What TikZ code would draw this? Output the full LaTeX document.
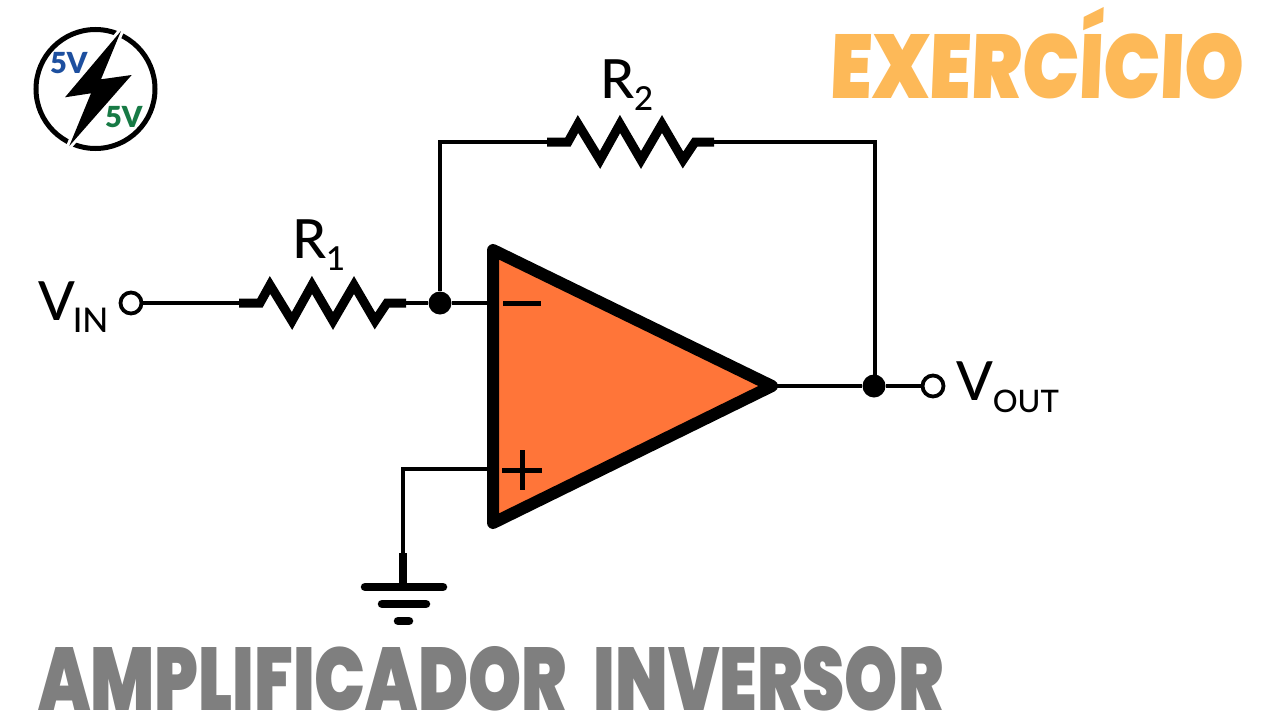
\documentclass[tikz,border=0pt]{standalone}
\usepackage{fontspec}
\setmainfont{Lato Medium}
\newfontfamily\heavyfont{Poppins Black}
\newfontfamily\slantfont[FakeSlant=0.05]{Poppins Black}
\newfontfamily\logofont{Lato Black}
\definecolor{opfill}{HTML}{FF7539}
\definecolor{extitle}{HTML}{FDB958}
\definecolor{amptitle}{HTML}{7F7F7F}
\definecolor{logoblue}{HTML}{1D4F9F}
\definecolor{logogreen}{HTML}{177A45}
\newcommand{\lbl}[3]{\fontsize{54}{54}\selectfont #1\raisebox{-12pt}{\fontsize{#3}{#3}\selectfont #2}}
\tikzset{
  wire/.style={line width=4.6pt,line cap=butt,line join=miter},
  dotnode/.style={circle,fill=black,inner sep=0pt,minimum size=23pt},
  termnode/.style={circle,draw=black,fill=white,line width=3.8pt,inner sep=0pt,minimum size=21pt},
  lab/.style={anchor=base west,inner sep=0pt,outer sep=0pt},
  gbar/.style={line width=8.5pt,line cap=round},
  res/.style={line width=9pt,line join=miter,miter limit=10},
  pics/resistor/.style={code={
    \draw[res] (0,0) -- (21,0) -- (31,-18) -- (53,18) -- (73,-18) -- (94,18) -- (115,-18) -- (136,18) -- (148,0) -- (167,0);
  }}
}
\begin{document}
\begin{tikzpicture}[x=1pt,y=-1pt]
\useasboundingbox (0,0) rectangle (1280,720);
\fill[white] (0,0) rectangle (1280,720);
% coordinates
\coordinate (r1a) at (239,303);
\coordinate (r1b) at (406,303);
\coordinate (r2a) at (547,142);
\coordinate (r2b) at (714,142);
\coordinate (tl) at (493,250);
\coordinate (bl) at (493,523);
\coordinate (apex) at (772,386);
\coordinate (inm) at (493,303);
\coordinate (inp) at (493,469);
\coordinate (gnd) at (403,469);
\coordinate (gtop) at (403,553);
\coordinate (gbot) at (403,587);
\coordinate (fbtl) at (440,142);
\coordinate (fbtr) at (875,142);
\coordinate (outj) at (875,386);
% connectors beneath nodes
\node[dotnode] (j1) at (440,303) {};
\node[dotnode] (j2) at (874,386) {};
\node[termnode] (vin) at (131,303) {};
\node[termnode] (vout) at (933,386) {};
\draw[wire] (vin) -- (r1a);
\draw[wire] (r1b) -- (j1) -- (inm);
\draw[wire] (j1) -- (fbtl) -- (r2a);
\draw[wire] (r2b) -- (fbtr) -- (outj);
\draw[wire] (apex) -- (j2) -- (vout);
\draw[wire] (inp) -- (gnd) -- (gtop);
\pic at (r1a) {resistor};
\pic at (r2a) {resistor};
% ground
\draw[line width=8.5pt] (gtop) -- (gbot);
\draw[gbar] (365,587) -- (443,587);
\draw[gbar] (382,604) -- (426,604);
\draw[gbar] (398,621) -- (409,621);
% op amp
\draw[fill=opfill,draw=black,line width=12pt,line join=round] (tl) -- (apex) -- (bl) -- cycle;
\draw[line width=5pt] (503,303) -- (541,303);
\draw[line width=5pt] (502,470) -- (542,470);
\draw[line width=5pt] (522,450) -- (522,490);
% labels
\node[lab] (lr1) at (292,258) {\lbl{R}{1}{33}};
\node[lab] (lr2) at (600,98) {\lbl{R}{2}{33}};
\node[lab] (lvin) at (38,320) {\lbl{V}{\hspace{-2pt}IN}{34}};
\node[lab] (lvout) at (956,400) {\lbl{V}{OUT}{31}};
% logo
\draw[line width=5pt] (95.5,89) circle[radius=59.5];
\draw[draw=white,line width=6pt,line join=miter] (121,31) -- (65,97.3) -- (91,93.3) -- (69.3,146) -- (131.7,75) -- (101,79.3) -- cycle;
\fill[black] (121,31) -- (65,97.3) -- (91,93.3) -- (69.3,146) -- (131.7,75) -- (101,79.3) -- cycle;
\node[lab,text=logoblue,font=\fontsize{29}{29}\logofont] (five1) at (50,73) {5V};
\node[lab,text=logogreen,font=\fontsize{29}{29}\logofont] (five2) at (105,127) {5V};
% titles
\node[anchor=south west,inner sep=0pt,outer sep=0pt,text=extitle] (ex) at (829,99) {\resizebox{414pt}{91pt}{\slantfont EXERCÍCIO}};
\node[anchor=south west,inner sep=0pt,outer sep=0pt,text=amptitle] (amp) at (38,711) {\resizebox{905pt}{64pt}{\heavyfont AMPLIFICADOR\hspace{0.4em}INVERSOR}};
\end{tikzpicture}
\end{document}
